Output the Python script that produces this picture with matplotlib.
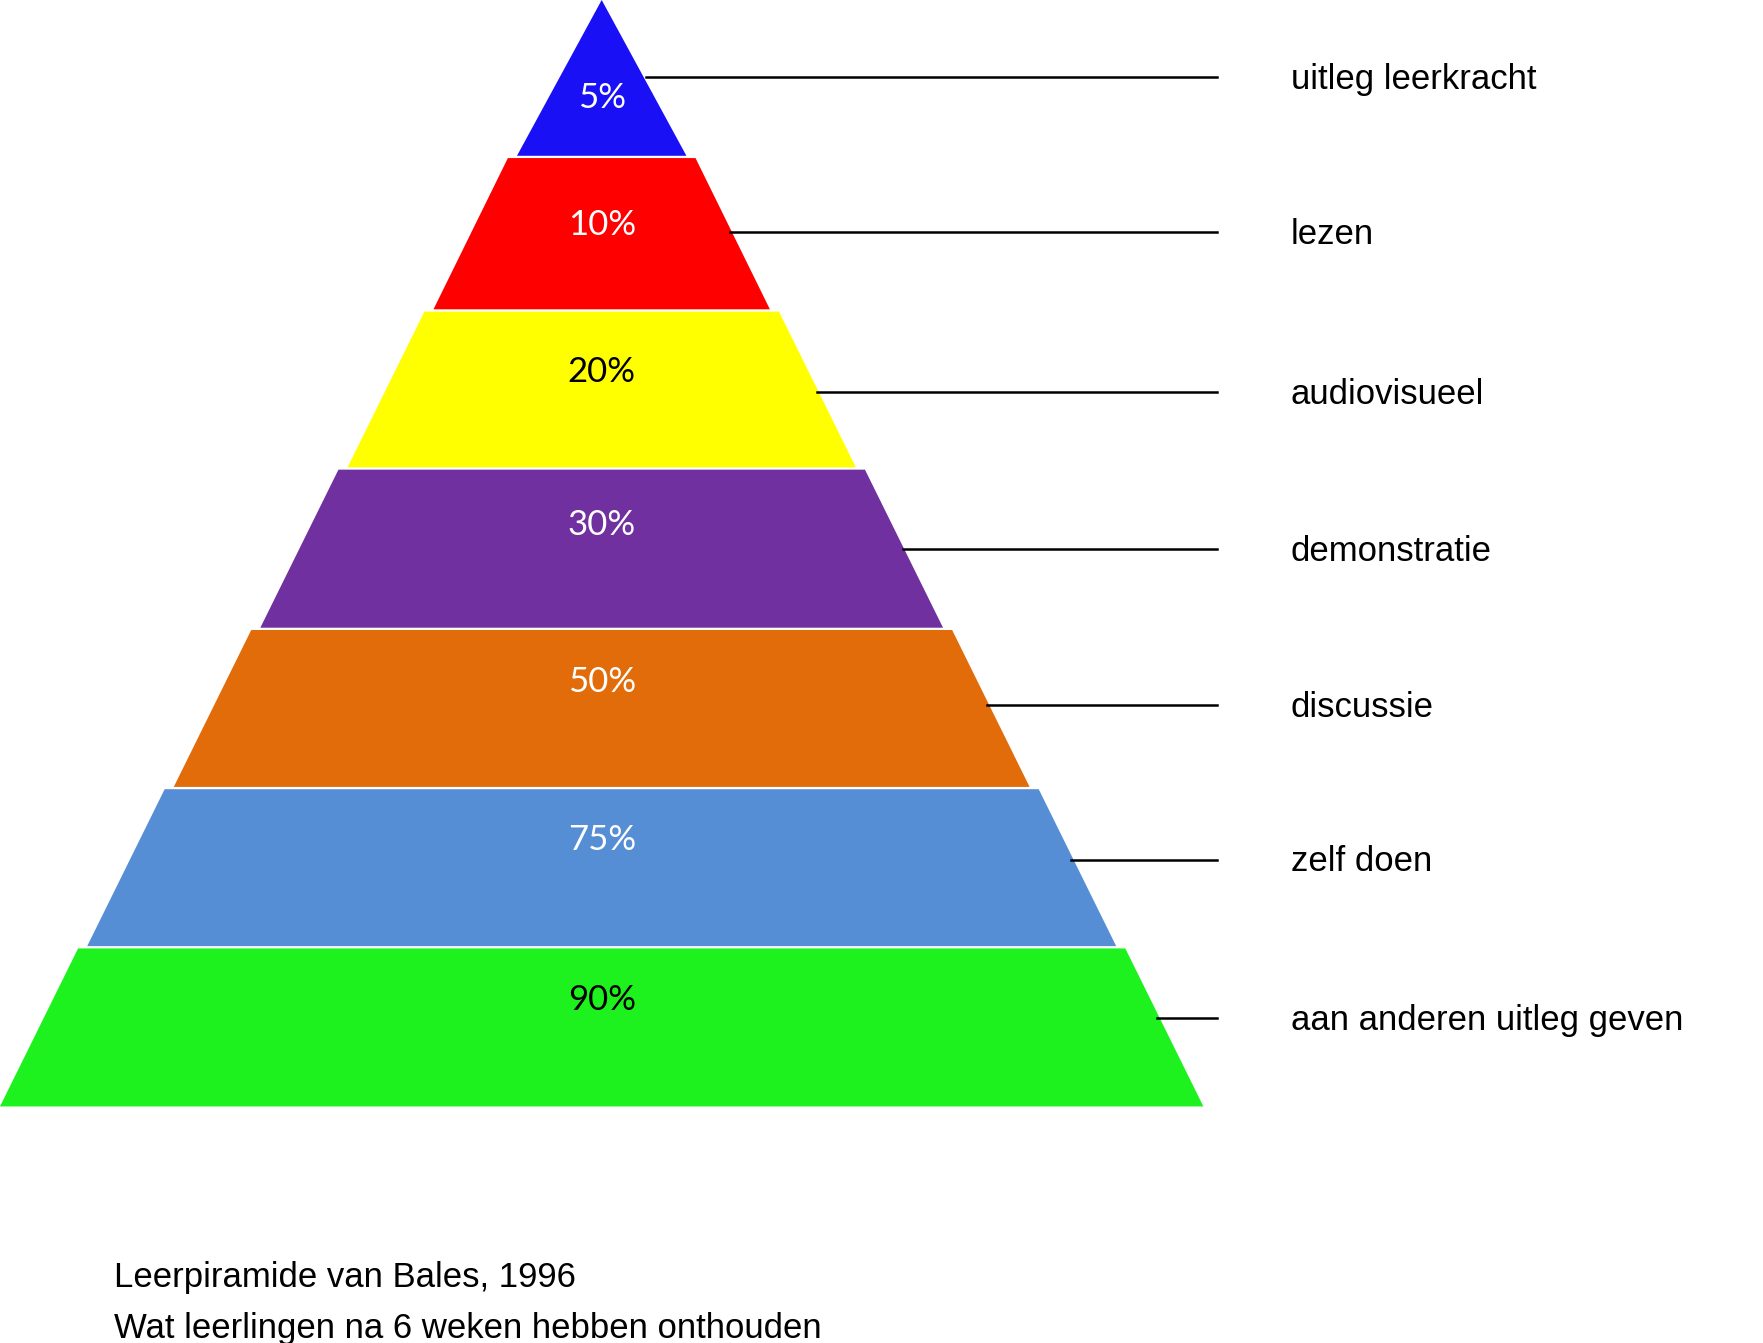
import matplotlib.pyplot as plt
from matplotlib.patches import Polygon

percentages = ['5%', '10%', '20%', '30%', '50%', '75%', '90%']
activities = ['uitleg leerkracht', 'lezen', 'audiovisueel', 'demonstratie',
              'discussie', 'zelf doen', 'aan anderen uitleg geven']
colors = ['#1a10f5', '#ff0000', '#ffff00', '#7030a0', '#e36c0a', '#558ed5', '#1ef21e']
text_colors = ['white', 'white', 'black', 'white', 'white', 'white', 'black']
bounds = [0, 137, 272, 411, 552, 692, 832, 973]
line_y = [68, 204, 345, 483, 620, 756, 895]
pct_y = [86, 198, 327, 462, 600, 739, 879]

W, H = 1550, 1181
cx, base = 529, 973

def half(y):
    return cx * y / base

fig = plt.figure(figsize=(17.63, 13.43), dpi=100)
ax = fig.add_axes([0, 0, 1, 1])
ax.set_xlim(0, W)
ax.set_ylim(H, 0)
ax.axis('off')

for i in range(7):
    y0, y1 = bounds[i], bounds[i + 1]
    gap = 0 if i == 0 else 2
    off = 0 if i == 0 else 8
    pts = [(cx - half(y0) - off, y0 + gap), (cx + half(y0) + off, y0 + gap),
           (cx + half(y1), y1), (cx - half(y1), y1)]
    ax.add_patch(Polygon(pts, closed=True, color=colors[i], lw=0))
    ax.text(cx, pct_y[i], percentages[i], ha='center', va='center',
            fontsize=25, color=text_colors[i], family='Lato')
    ax.plot([cx + half(line_y[i]) + 2, 1070], [line_y[i], line_y[i]], color='black', lw=1.8)
    ax.text(1135, line_y[i] + 2, activities[i], ha='left', va='center',
            fontsize=25, family='Liberation Sans')

ax.text(100, 1123, 'Leerpiramide van Bales, 1996', ha='left', va='center',
        fontsize=25, family='Liberation Sans')
ax.text(100, 1168, 'Wat leerlingen na 6 weken hebben onthouden', ha='left', va='center',
        fontsize=25, family='Liberation Sans')

fig.savefig('out.png', dpi=100, facecolor='white')
